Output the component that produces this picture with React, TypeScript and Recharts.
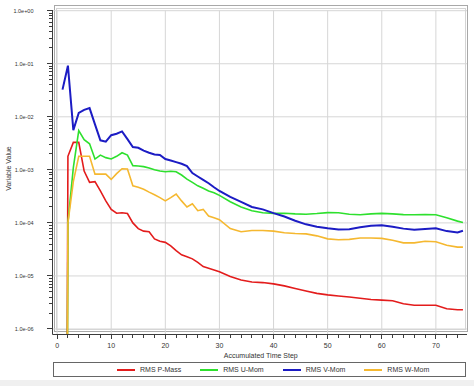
import React from 'react';
import { LineChart, Line, XAxis, YAxis, CartesianGrid, Legend } from 'recharts';

const steps = [
  1, 2, 3, 4, 5, 6, 7, 8, 9, 10, 11, 12, 13, 14, 15, 16, 17, 18, 19, 20,
  21, 22, 23, 24, 25, 26, 27, 28, 29, 30, 32, 34, 36, 38, 40, 42, 44, 46, 48, 50,
  52, 54, 56, 58, 60, 62, 64, 66, 68, 70, 72, 74, 75,
];

const pMass = [
  1e-30, 0.0018, 0.0033, 0.0033, 0.00095, 0.00058, 0.0006, 0.0004, 0.00026, 0.00018,
  0.000152, 0.000155, 0.00015, 0.0001, 0.000078, 0.00007, 0.000068, 0.00005, 0.000045, 0.000043,
  0.000037, 0.00003, 0.000025, 0.000023, 0.000021, 0.000018, 0.000015, 0.000014, 0.000013, 0.000012,
  0.0000098, 0.0000084, 0.0000077, 0.0000075, 0.0000071, 0.0000065, 0.0000058, 0.0000052, 0.0000047, 0.0000044,
  0.0000042, 0.000004, 0.0000038, 0.0000036, 0.0000035, 0.0000034, 0.000003, 0.0000028, 0.0000028, 0.0000028,
  0.0000024, 0.0000023, 0.0000023,
];

const uMom = [
  1e-30, 0.0001, 0.0011, 0.0055, 0.0037, 0.0031, 0.0016, 0.0019, 0.0017, 0.0016,
  0.0018, 0.0021, 0.0019, 0.0012, 0.00118, 0.00115, 0.00108, 0.001, 0.00095, 0.00092,
  0.00094, 0.00092, 0.0008, 0.00067, 0.00058, 0.0005, 0.00045, 0.0004, 0.00037, 0.00033,
  0.00025, 0.0002, 0.00017, 0.000155, 0.000151, 0.000152, 0.000148, 0.000146, 0.00015, 0.000156,
  0.000155, 0.000146, 0.000142, 0.000148, 0.000151, 0.000148, 0.000143, 0.000142, 0.000143, 0.000142,
  0.000125, 0.000108, 0.000102,
];

const vMom = [
  0.0325, 0.092, 0.0056, 0.0118, 0.0135, 0.0146, 0.0072, 0.0036, 0.0034, 0.0045,
  0.0048, 0.0053, 0.0038, 0.0027, 0.0026, 0.0023, 0.0021, 0.00195, 0.0019, 0.0016,
  0.0015, 0.0014, 0.0013, 0.00118, 0.00087, 0.00075, 0.00065, 0.00056, 0.00047, 0.0004,
  0.00031, 0.00025, 0.0002, 0.00018, 0.000153, 0.000132, 0.00011, 0.000094, 0.000085, 0.000079,
  0.000075, 0.000076, 0.000083, 0.000088, 0.00009, 0.000085, 0.000078, 0.000074, 0.000077, 0.000079,
  0.00007, 0.000066, 0.000071,
];

const wMom = [
  1e-30, 0.0001, 0.0006, 0.0018, 0.0018, 0.0018, 0.00083, 0.00083, 0.00083, 0.00066,
  0.00085, 0.00105, 0.00104, 0.0005, 0.00047, 0.00043, 0.00038, 0.00034, 0.0003, 0.00026,
  0.0003, 0.00035, 0.00026, 0.0002, 0.00023, 0.00017, 0.00018, 0.000135, 0.000125, 0.000115,
  0.000078, 0.000068, 0.000072, 0.000072, 0.00007, 0.000065, 0.000063, 0.000062, 0.000057, 0.00005,
  0.000048, 0.000049, 0.000052, 0.000052, 0.000051, 0.000047, 0.000042, 0.000042, 0.000045, 0.000044,
  0.000038, 0.000035, 0.000035,
];

const seriesKeys = ['pMass', 'uMom', 'vMom', 'wMom'];
const seriesNames = ['RMS P-Mass', 'RMS U-Mom', 'RMS V-Mom', 'RMS W-Mom'];
const seriesColors = ['#e31c1c', '#2ee02e', '#1c1cc4', '#f5b830'];

const xTicks = [
  0, 2, 4, 6, 8, 10, 12, 14, 16, 18, 20, 22, 24, 26, 28, 30, 32, 34, 36, 38,
  40, 42, 44, 46, 48, 50, 52, 54, 56, 58, 60, 62, 64, 66, 68, 70, 72, 74,
];
const xLabelTicks = [0, 10, 20, 30, 40, 50, 60, 70];
const yMajorTicks = [1e-6, 1e-5, 1e-4, 1e-3, 1e-2, 1e-1, 1];
const yTickLabels = ['1.0e-06', '1.0e-05', '1.0e-04', '1.0e-03', '1.0e-02', '1.0e-01', '1.0e+00'];
const yMinorMultipliers = [2, 3, 4, 5, 6, 7, 8, 9];

const yAllTicks = yMajorTicks
  .slice(0, 6)
  .flatMap((d) => [d, ...yMinorMultipliers.map((m) => m * d)])
  .concat([1]);

const data = steps.map((s, i) => ({
  step: s,
  pMass: pMass[i],
  uMom: uMom[i],
  vMom: vMom[i],
  wMom: wMom[i],
}));

const FONT = '"Liberation Sans", Arial, sans-serif';
const TEXT = '#333';
const AXIS = '#3c3c3c';

const crisp = (v: number) => Math.round(v - 0.5) + 0.5;

const YTick = (props: any) => {
  const { x, y, payload } = props;
  const v = Number(payload.value);
  const idx = yMajorTicks.findIndex((t) => Math.abs(Math.log10(t) - Math.log10(v)) < 1e-6);
  const major = idx >= 0;
  const cy = crisp(y);
  return (
    <g>
      <line x1={x - (major ? 6 : 4)} x2={x} y1={cy} y2={cy} stroke={AXIS} strokeWidth={1} shapeRendering="crispEdges" />
      {major && (
        <text x={x - 19} y={y} textAnchor="end" dominantBaseline="central" fontSize={5.5} fill={TEXT} fontFamily={FONT}>
          {yTickLabels[idx]}
        </text>
      )}
    </g>
  );
};

const XTick = (props: any) => {
  const { x, y, payload } = props;
  const v = payload.value;
  const major = xLabelTicks.includes(v);
  const cx = crisp(x);
  return (
    <g>
      <line x1={cx} x2={cx} y1={y} y2={y + (major ? 4 : 3)} stroke={AXIS} strokeWidth={1} shapeRendering="crispEdges" />
      {major && (
        <text x={x} y={y + 11} textAnchor="middle" dominantBaseline="central" fontSize={7} fill={TEXT} fontFamily={FONT}>
          {v}
        </text>
      )}
    </g>
  );
};

const LegendContent = (props: any) => {
  const { payload } = props;
  return (
    <div
      style={{
        boxSizing: 'border-box',
        width: '100%',
        height: '100%',
        border: '1px solid #666',
        background: '#fff',
        display: 'flex',
        alignItems: 'center',
        paddingLeft: 63,
        fontSize: 7,
        fontFamily: FONT,
        color: TEXT,
      }}
    >
      {(payload || []).map((p: any, i: number) => {
        const k = seriesKeys.indexOf(String(p.dataKey));
        const color = k >= 0 ? seriesColors[k] : p.color;
        return (
          <div key={i} style={{ display: 'flex', alignItems: 'center', marginRight: 19 }}>
            <span style={{ display: 'inline-block', width: 18, height: 2, background: color, marginRight: 5 }} />
            <span>{k >= 0 ? seriesNames[k] : p.value}</span>
          </div>
        );
      })}
    </div>
  );
};

const yLabel = (p: any) => {
  const vb = p.viewBox || { x: 0, y: 10, width: 52, height: 324 };
  const cx = vb.x + 7.5;
  const cy = vb.y + vb.height / 2 - 4;
  return (
    <text x={cx} y={cy} transform={`rotate(-90 ${cx} ${cy})`} textAnchor="middle" dominantBaseline="central" fontSize={7} fill={TEXT} fontFamily={FONT}>
      Variable Value
    </text>
  );
};

const xLabel = (p: any) => {
  const vb = p.viewBox || { x: 52, y: 334, width: 414, height: 20 };
  const cx = vb.x + vb.width / 2 + 1;
  const cy = vb.y + 20.5;
  return (
    <text x={cx} y={cy} textAnchor="middle" dominantBaseline="central" fontSize={7} fill={TEXT} fontFamily={FONT}>
      Accumulated Time Step
    </text>
  );
};

export default function App() {
  return (
    <div style={{ position: 'absolute', left: 0, top: 0, width: 474, height: 386, background: '#fff', fontFamily: FONT }}>
      <div style={{ position: 'absolute', left: 0, top: 380, width: 474, height: 6, background: '#f0f0f0' }} />
      <div style={{ position: 'absolute', left: 54, top: 5, width: 414, height: 327, boxSizing: 'border-box', border: '1px solid #a8a8a8' }} />
      <div style={{ position: 'absolute', left: 56, top: 8, width: 410, height: 322, boxSizing: 'border-box', border: '1px solid #d4d4d4' }} />
      <div style={{ position: 'absolute', left: 0, top: 0 }}>
        <LineChart width={474} height={386} data={data} margin={{ top: 10.5, right: 7, bottom: 31.5, left: 0.5 }}>
          <CartesianGrid
            stroke="#d6d6d6"
            strokeWidth={1}
            horizontalValues={yMajorTicks}
            verticalValues={xLabelTicks}
          />
          <XAxis
            dataKey="step"
            type="number"
            domain={[-0.85, 75.75]}
            allowDataOverflow
            ticks={xTicks}
            interval={0}
            tickLine={false}
            tickSize={0}
            tickMargin={0}
            tick={<XTick />}
            axisLine={{ stroke: AXIS, strokeWidth: 1 }}
            height={20}
            label={{ value: 'Accumulated Time Step', content: xLabel }}
          />
          <YAxis
            type="number"
            scale="log"
            domain={[Math.pow(10, -6.1037), Math.pow(10, 0.0038)]}
            allowDataOverflow
            ticks={yAllTicks}
            interval={0}
            minTickGap={0}
            tickLine={false}
            tickSize={0}
            tickMargin={0}
            tick={<YTick />}
            axisLine={{ stroke: AXIS, strokeWidth: 1 }}
            width={52}
            label={{ value: 'Variable Value', content: yLabel }}
          />
          {seriesKeys.map((k, i) => (
            <Line
              key={k}
              type="linear"
              dataKey={k}
              name={seriesNames[i]}
              stroke={seriesColors[i]}
              strokeWidth={i === 2 ? 2 : 1.6}
              dot={false}
              activeDot={false}
              isAnimationActive={false}
            />
          ))}
          <Legend
            layout="horizontal"
            align="center"
            verticalAlign="middle"
            content={<LegendContent />}
            wrapperStyle={{ left: 53, top: 362, width: 413, height: 15 }}
          />
        </LineChart>
      </div>
    </div>
  );
}
